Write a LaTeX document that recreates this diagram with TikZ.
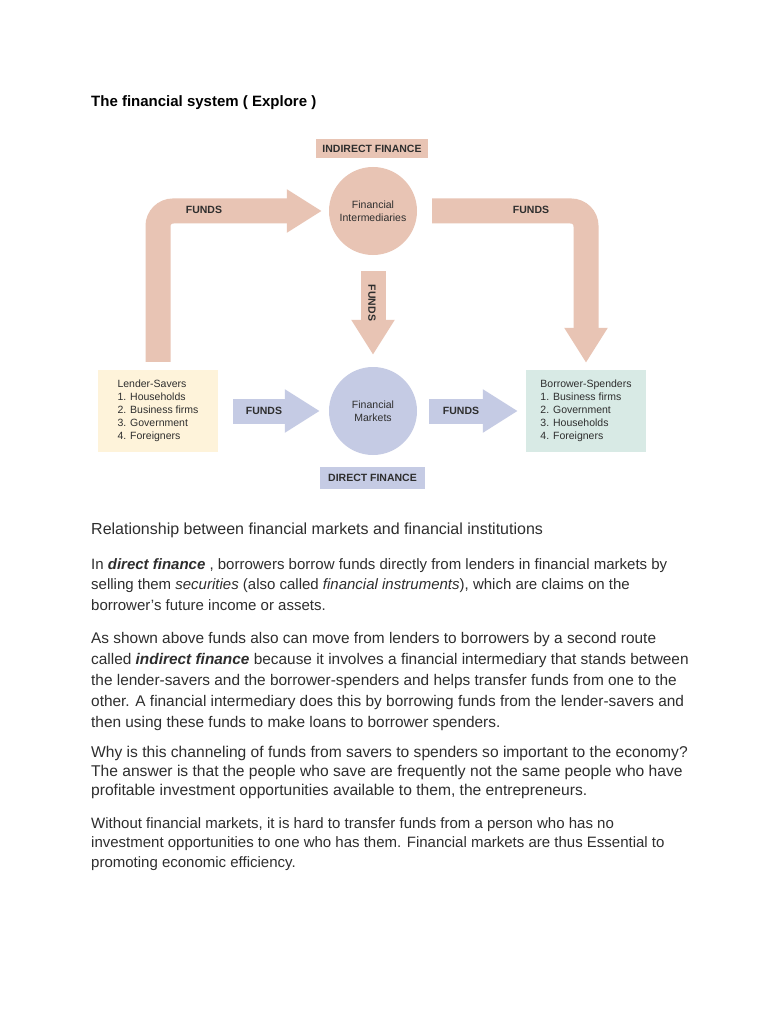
\documentclass[tikz,border=0pt]{standalone}
\usepackage{fontspec}
\setmainfont{Liberation Sans}
\usetikzlibrary{positioning, calc, arrows.meta}

\definecolor{salmon}{HTML}{E8C4B4}
\definecolor{lavender}{HTML}{C5CBE4}
\definecolor{lenderfill}{HTML}{FEF3DA}
\definecolor{borrowerfill}{HTML}{D8EAE5}
\definecolor{ink}{HTML}{2E2E2E}

\tikzset{
  hub/.style={circle, minimum size=88pt, inner sep=0pt, align=center,
    font=\fontsize{10.5}{13}\selectfont, text=ink},
  party/.style={rectangle, minimum width=120pt, minimum height=82pt, align=left,
    font=\fontsize{10.5}{13}\selectfont, text=ink},
  tag/.style={rectangle, inner sep=0pt, font=\fontsize{10.5}{12}\selectfont\bfseries, text=ink},
  fundsarrow/.style={line width=25pt, -{Triangle[length=35pt,width=41pt]}},
  fundslabel/.style={inner sep=0pt, font=\fontsize{10.5}{12}\selectfont\bfseries, text=ink},
  para/.style={anchor=north west, inner sep=0pt, align=left, text=ink},
}

\begin{document}
\begin{tikzpicture}[x=1pt, y=-1pt]
  \useasboundingbox (0,0) rectangle (768,1024);
  \fill[white] (0,0) rectangle (768,1024);

  % heading
  \node[anchor=base west, inner sep=0pt, font=\fontsize{15}{18}\selectfont\bfseries] (title) at (91,107) {The financial system ( Explore )};

  % diagram
  \node[hub, fill=salmon] (fi) at (373,211) {Financial\\Intermediaries};
  \node[hub, fill=lavender] (fm) at (373,411) {Financial\\Markets};
  \node[tag, fill=salmon, minimum width=112pt, minimum height=19pt] (indirect) at (372,148.5) {INDIRECT FINANCE};
  \node[tag, fill=lavender, minimum width=105pt, minimum height=22pt] (direct) at (372.5,478) {DIRECT FINANCE};
  \node[party, fill=lenderfill] (lender) at (158,411) {Lender-Savers\\1. Households\\2. Business firms\\3. Government\\4. Foreigners};
  \node[party, fill=borrowerfill] (borrower) at (586,411) {Borrower-Spenders\\1. Business firms\\2. Government\\3. Households\\4. Foreigners};

  \draw[fundsarrow, salmon, rounded corners=15pt] ([yshift=8pt]lender.north) |- ([xshift=-7pt]fi.west);
  \draw[fundsarrow, salmon, rounded corners=15pt] ([xshift=15pt]fi.east) -| ([yshift=7pt]borrower.north);
  \draw[fundsarrow, salmon] ([yshift=-16pt]fi.south) -- ([yshift=12pt]fm.north);
  \draw[fundsarrow, lavender] ([xshift=15pt]lender.east) -- ([xshift=-9pt]fm.west);
  \draw[fundsarrow, lavender] ([xshift=12pt]fm.east) -- ([xshift=-8pt]borrower.west);

  \node[fundslabel] (funds1) at (204,210) {FUNDS};
  \node[fundslabel] (funds2) at (531,210) {FUNDS};
  \node[fundslabel, rotate=-90] (funds3) at (372,303) {FUNDS};
  \node[fundslabel] (funds4) at (264,411) {FUNDS};
  \node[fundslabel] (funds5) at (461,411) {FUNDS};

  % text below
  \node[anchor=base west, inner sep=0pt, text=ink, font=\fontsize{16}{18}\selectfont] (caption) at (91,534) {Relationship between financial markets and financial institutions};

  \node[para, font=\fontsize{15}{20.5}\selectfont] (direct text) at (91,554.6) {\strut In \textbf{\textit{direct finance}} , borrowers borrow funds directly from lenders in financial markets by\\
    selling them \textit{securities} (also called \textit{financial instruments}), which are claims on the\\
    borrower's future income or assets.};

  \node[para, font=\fontsize{15.4}{21}\selectfont] (indirect text) at (91,628.3) {\strut As shown above funds also can move from lenders to borrowers by a second route\\
    called \textbf{\textit{indirect finance}} because it involves a financial intermediary that stands between\\
    the lender-savers and the borrower-spenders and helps transfer funds from one to the\\
    other. A financial intermediary does this by borrowing funds from the lender-savers and\\
    then using these funds to make loans to borrower spenders.};

  \node[para, font=\fontsize{15.6}{19.3}\selectfont] (why text) at (91,743.5) {\strut Why is this channeling of funds from savers to spenders so important to the economy?\\
    The answer is that the people who save are frequently not the same people who have\\
    profitable investment opportunities available to them, the entrepreneurs.};

  \node[para, font=\fontsize{15}{19.5}\selectfont] (without text) at (91,814.4) {\strut Without financial markets, it is hard to transfer funds from a person who has no\\
    investment opportunities to one who has them. Financial markets are thus Essential to\\
    promoting economic efficiency.};
\end{tikzpicture}
\end{document}
